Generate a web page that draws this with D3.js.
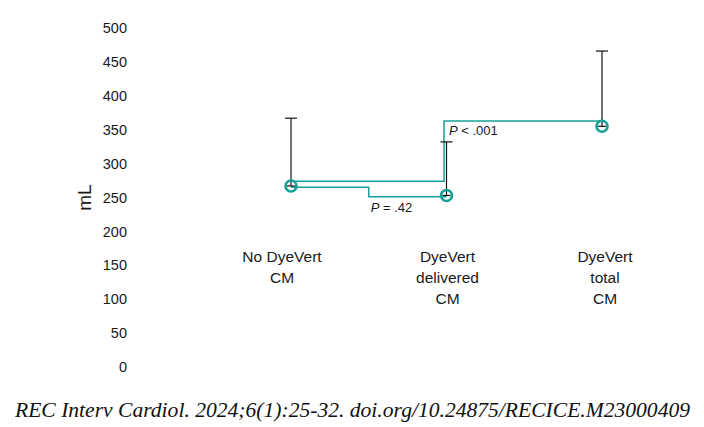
<!DOCTYPE html>
<html lang="en">
  <head>
    <meta charset="utf-8" />
    <title>Contrast media volume</title>
    <script src="https://d3js.org/d3.v7.min.js"></script>
    <style>
      body {
        margin: 0;
        background: #fff;
      }
      .tick text {
        font-family: "Liberation Sans", Arial, sans-serif;
        font-size: 14.5px;
        fill: #1a1a1a;
      }
      .cat {
        font-family: "Liberation Sans", Arial, sans-serif;
        font-size: 15.5px;
        fill: #1a1a1a;
      }
      .pval {
        font-family: "Liberation Sans", Arial, sans-serif;
        font-size: 13px;
        fill: #1a1a1a;
      }
      .source {
        font-family: "Liberation Serif", "DejaVu Serif", serif;
        font-style: italic;
        font-size: 20.5px;
        fill: #111;
      }
    </style>
  </head>
  <body>
    <svg id="chart" width="704" height="427"></svg>
    <script>
      // valori (mL)
      const categories = ["No DyeVert CM", "DyeVert delivered CM", "DyeVert total CM"];
      const catLines = [["No DyeVert", "CM"], ["DyeVert", "delivered", "CM"], ["DyeVert", "total", "CM"]];
      const means = [267, 253, 355];
      const upper = [367, 332, 466];
      const yTicks = [0, 50, 100, 150, 200, 250, 300, 350, 400, 450, 500];

      // confronti: livello di partenza / arrivo del gradino
      const comparisons = [
        { from: 0, to: 1, y1: 265, y2: 251, step: 0.5, label: ".42", op: "=" },
        { from: 0, to: 2, y1: 274, y2: 363, step: 0.492, label: ".001", op: "<" },
      ];

      const teal = "#17a098";
      const svg = d3.select("#chart");

      const x = d3.scalePoint().domain(categories).range([291, 602]);
      const y = d3.scaleLinear().domain([0, 500]).range([367, 28]);

      // asse y senza linea
      const yAxis = svg
        .append("g")
        .attr("transform", "translate(131,0)")
        .call(d3.axisLeft(y).tickValues(yTicks).tickSize(0).tickPadding(4));
      yAxis.select(".domain").remove();

      svg
        .append("text")
        .attr("transform", `translate(91,${y(250)}) rotate(-90)`)
        .attr("text-anchor", "middle")
        .attr("font-family", "Liberation Sans, Arial, sans-serif")
        .attr("font-size", 19)
        .attr("fill", "#1a1a1a")
        .text("mL");

      // etichette categorie
      const labelShift = [-9, 1, 3];
      categories.forEach((c, i) => {
        const t = svg
          .append("text")
          .attr("class", "cat")
          .attr("text-anchor", "middle")
          .attr("y", 262);
        catLines[i].forEach((line, j) => {
          t.append("tspan")
            .attr("x", x(c) + labelShift[i])
            .attr("dy", j === 0 ? 0 : 21)
            .text(line);
        });
      });

      // linee dei confronti
      comparisons.forEach((cmp) => {
        const xa = x(categories[cmp.from]);
        const xb = x(categories[cmp.to]);
        const xs = xa + (xb - xa) * cmp.step;
        svg
          .append("path")
          .attr("d", `M${xa},${y(cmp.y1)}H${xs}V${y(cmp.y2)}H${xb}`)
          .attr("fill", "none")
          .attr("stroke", teal)
          .attr("stroke-width", 1.5);
      });

      const p1 = comparisons[0];
      const p1x = x(categories[p1.from]) + (x(categories[p1.to]) - x(categories[p1.from])) * p1.step;
      const t1 = svg
        .append("text")
        .attr("class", "pval")
        .attr("x", p1x + 2)
        .attr("y", y(p1.y2) + 15);
      t1.append("tspan").attr("font-style", "italic").text("P");
      t1.append("tspan").text(` ${p1.op} ${p1.label}`);

      const p2 = comparisons[1];
      const p2x = x(categories[p2.from]) + (x(categories[p2.to]) - x(categories[p2.from])) * p2.step;
      const t2 = svg
        .append("text")
        .attr("class", "pval")
        .attr("x", p2x + 5)
        .attr("y", y(p2.y2) + 14);
      t2.append("tspan").attr("font-style", "italic").text("P");
      t2.append("tspan").text(` ${p2.op} ${p2.label}`);

      // barre di errore (solo verso l'alto)
      const g = svg.append("g").attr("stroke", "#111").attr("stroke-width", 1.2);
      categories.forEach((c, i) => {
        const cx = x(c);
        g.append("line").attr("x1", cx).attr("x2", cx).attr("y1", y(means[i])).attr("y2", y(upper[i]));
        g.append("line").attr("x1", cx - 6).attr("x2", cx + 6).attr("y1", y(upper[i])).attr("y2", y(upper[i]));
        g.append("line").attr("x1", cx - 4).attr("x2", cx + 4).attr("y1", y(means[i])).attr("y2", y(means[i]));
      });

      // medie
      svg
        .append("g")
        .selectAll("circle")
        .data(categories)
        .join("circle")
        .attr("cx", (d) => x(d))
        .attr("cy", (d, i) => y(means[i]))
        .attr("r", 5.5)
        .attr("fill", "none")
        .attr("stroke", teal)
        .attr("stroke-width", 2.6);

      svg
        .append("text")
        .attr("class", "source")
        .attr("x", 15)
        .attr("y", 417)
        .attr("textLength", 675)
        .attr("lengthAdjust", "spacingAndGlyphs")
        .text("REC Interv Cardiol. 2024;6(1):25-32. doi.org/10.24875/RECICE.M23000409");
    </script>
  </body>
</html>
